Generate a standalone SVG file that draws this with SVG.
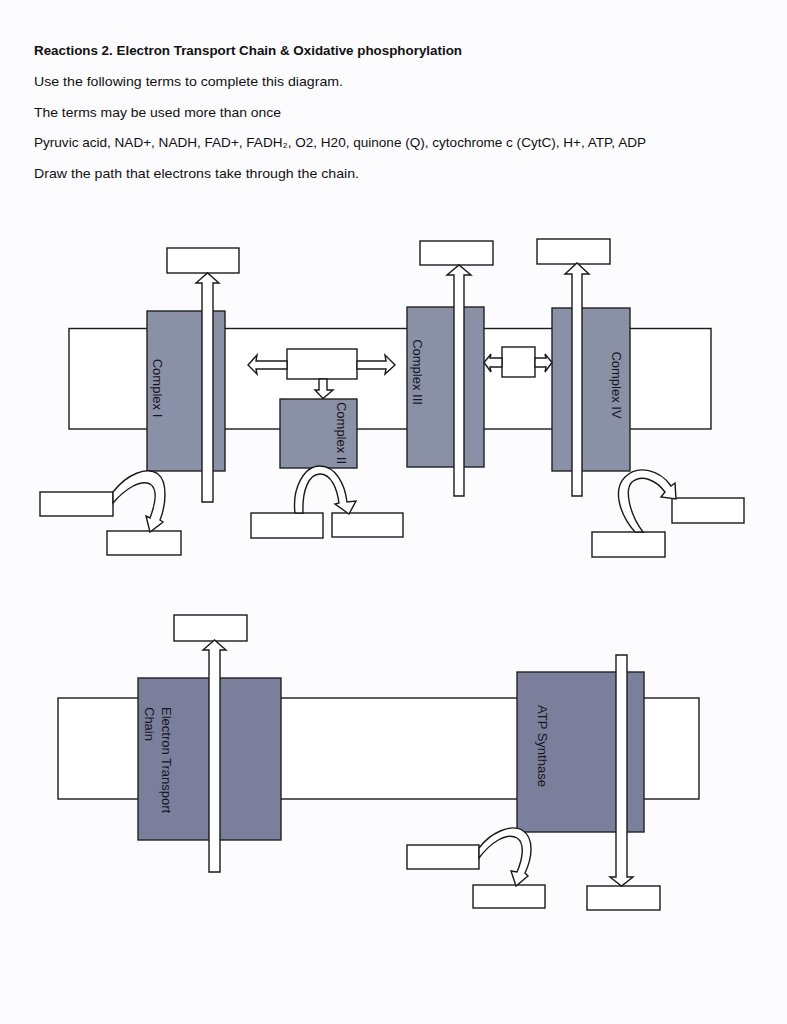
<svg xmlns="http://www.w3.org/2000/svg" width="787" height="1024" viewBox="0 0 787 1024">
<style>
.bg{fill:#fcfbfd}
.box{fill:#ffffff;stroke:#1a1a1a;stroke-width:1.4}
.mem{fill:#ffffff;stroke:#1a1a1a;stroke-width:1.4}
.cx{fill:#8a91a6;stroke:#222;stroke-width:1.4}
.cx2{fill:#7c7f9c;stroke:#222;stroke-width:1.4}
.arr{fill:#ffffff;stroke:#1a1a1a;stroke-width:1.4;stroke-linejoin:miter}
.t{font-family:"Liberation Sans",Arial,sans-serif;font-size:13.5px;fill:#111}
.tb{font-family:"Liberation Sans",Arial,sans-serif;font-size:13.5px;font-weight:bold;fill:#111}
.lbl{font-family:"Liberation Sans",Arial,sans-serif;font-size:13px;fill:#15151f}
</style>
<rect class="bg" x="0" y="0" width="787" height="1024"/>

<g id="instructions">
<text class="tb" x="34" y="55" textLength="428" lengthAdjust="spacingAndGlyphs">Reactions 2.  Electron Transport Chain &amp; Oxidative phosphorylation</text>
<text class="t" x="34" y="86" textLength="309" lengthAdjust="spacingAndGlyphs">Use the following terms to complete this diagram.</text>
<text class="t" x="34" y="117" textLength="247" lengthAdjust="spacingAndGlyphs">The terms may be used more than once</text>
<text class="t" x="34" y="147" textLength="612" lengthAdjust="spacingAndGlyphs">Pyruvic acid, NAD+, NADH, FAD+, FADH₂, O2, H20, quinone (Q), cytochrome c (CytC), H+, ATP, ADP</text>
<text class="t" x="34" y="178" textLength="325" lengthAdjust="spacingAndGlyphs">Draw the path that electrons take through the chain.</text>
</g>

<g id="membrane-top">
<rect class="mem" x="69" y="328.5" width="642" height="100.5"/>
</g>
<g id="membrane-bottom">
<rect class="mem" x="58" y="698" width="641" height="101"/>
</g>

<g id="complex-1">
<rect class="cx" x="147" y="311" width="78" height="160"/>
<text class="lbl" transform="translate(153,388) rotate(90)" text-anchor="middle">Complex I</text>
</g>
<g id="complex-2">
<rect class="cx" x="280" y="399" width="77" height="69"/>
<text class="lbl" transform="translate(337,433) rotate(90)" text-anchor="middle">Complex II</text>
</g>
<g id="complex-3">
<rect class="cx" x="407" y="307" width="77" height="160"/>
<text class="lbl" transform="translate(413,372) rotate(90)" text-anchor="middle">Complex III</text>
</g>
<g id="complex-4">
<rect class="cx" x="552" y="308" width="78" height="163"/>
<text class="lbl" transform="translate(612,385) rotate(90)" text-anchor="middle">Complex IV</text>
</g>
<g id="etc">
<rect class="cx2" x="138" y="678" width="143" height="162"/>
<text class="lbl" transform="translate(162,707) rotate(90)">Electron Transport</text>
<text class="lbl" transform="translate(145,707) rotate(90)">Chain</text>
</g>
<g id="atp-synthase">
<rect class="cx2" x="517" y="672" width="127" height="160"/>
<text class="lbl" transform="translate(538,705) rotate(90)">ATP Synthase</text>
</g>

<g id="quinone-box"><rect class="box" x="287" y="349" width="70" height="30"/></g>
<g id="cytc-box"><rect class="box" x="502" y="347" width="33" height="30"/></g>

<g id="blank-c1-top"><rect class="box" x="167" y="248" width="72" height="25"/></g>
<g id="blank-c1-left"><rect class="box" x="40" y="492" width="73" height="24"/></g>
<g id="blank-c1-bottom"><rect class="box" x="107" y="531" width="74" height="24"/></g>
<g id="blank-c2-left"><rect class="box" x="251" y="513" width="72" height="25"/></g>
<g id="blank-c2-right"><rect class="box" x="332" y="513" width="71" height="24"/></g>
<g id="blank-c3-top"><rect class="box" x="420" y="241" width="73" height="24"/></g>
<g id="blank-c4-top"><rect class="box" x="537" y="239" width="73" height="25"/></g>
<g id="blank-c4-right"><rect class="box" x="672" y="498" width="72" height="25"/></g>
<g id="blank-c4-bottom"><rect class="box" x="592" y="532" width="73" height="25"/></g>
<g id="blank-etc-top"><rect class="box" x="174" y="615" width="73" height="26"/></g>
<g id="blank-atp-left"><rect class="box" x="407" y="845" width="72" height="24"/></g>
<g id="blank-atp-bottom"><rect class="box" x="473" y="885" width="72" height="23"/></g>
<g id="blank-atp-right"><rect class="box" x="587" y="886" width="73" height="24"/></g>

<g id="connectors">
<polygon class="arr" points="202,502 202,283 196,283 207.5,273 219,283 213,283 213,502"/>
<polygon class="arr" points="454,496 454,275 447,275 459,265 471,275 464,275 464,496"/>
<polygon class="arr" points="572,496 572,274 565,274 577,263 589,274 582,274 582,496"/>
<polygon class="arr" points="209,872 209,650 203,650 214.5,640 226,650 220,650 220,872"/>
<polygon class="arr" points="616,655 616,877 610,877 621.5,886 633,877 627,877 627,655"/>
<polygon class="arr" points="287,361 256,361 257,355 248,365 257,374 256,369 287,369"/>
<polygon class="arr" points="357,361 386,361 385,355 395,365 385,374 386,369 357,369"/>
<polygon class="arr" points="319,379 319,390 315,390 323,398.5 333,390 327,390 327,379"/>
<polygon class="arr" points="502,358 490,358 491,354 484,362.5 491,372 490,367 502,367"/>
<polygon class="arr" points="535,358 546,358 545,354 552,362.5 545,372 546,367 535,367"/>
<path class="arr" d="M113,492 C127,474 147,466 158,474 C168,482 166,505 160,520 L163,522 L150,532 L146,516 L150,518 C156,502 158,489 150,484 C140,479 124,490 113,503 Z"/>
<path class="arr" d="M295,513 C292,488 304,466 320,466 C336,466 345,485 347,502 L356,501 L349,514 L335,504 L339,503 C337,488 331,474 320,474 C309,474 302,490 303,513 Z"/>
<path class="arr" d="M635,532 C620,515 612,490 625,477 C638,464 660,470 671,486 L675,483 L676,499 L661,497 L665,492 C656,480 642,474 632,482 C624,490 630,515 643,532 Z"/>
<path class="arr" d="M479,848 C491,832 511,824 522,830 C535,838 532,858 525,873 L528,876 L516,886 L511,871 L517,872 C523,858 525,843 517,838 C507,832 491,842 479,858 Z"/>
</g>
</svg>
